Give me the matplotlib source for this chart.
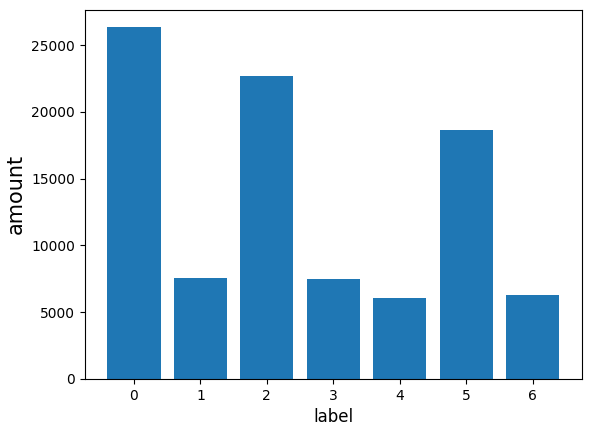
import matplotlib
matplotlib.use("Agg")
import matplotlib.pyplot as plt

labels = [0, 1, 2, 3, 4, 5, 6]
amounts = [26350, 7560, 22680, 7490, 6060, 18640, 6290]

fig = plt.figure(figsize=(5.93, 4.34), dpi=100)
ax = fig.add_axes([0.143, 0.127, 0.838, 0.851])
ax.bar(labels, amounts, color="#1f77b4")
ax.set_xlabel("label", fontsize=12)
ax.set_ylabel("amount", fontsize=15)
ax.set_xticks(labels)
fig.savefig("out.png", dpi=100)
